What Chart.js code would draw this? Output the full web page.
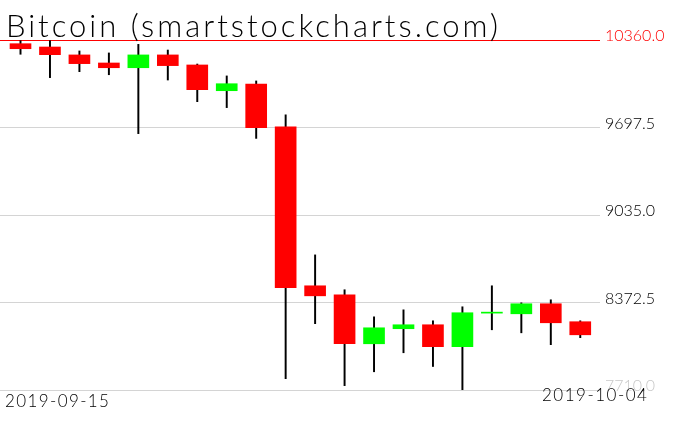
<!DOCTYPE html>
<html>
<head>
<meta charset="utf-8">
<script src="https://cdn.jsdelivr.net/npm/chart.js@4.4.1/dist/chart.umd.min.js"></script>
<style>
  html, body { margin: 0; padding: 0; background: #ffffff; }
  #wrap { width: 676px; height: 431px; position: relative; }
</style>
</head>
<body>
<div id="wrap"><canvas id="c" width="676" height="431"></canvas></div>
<script>
const chartTitle = 'Bitcoin (smartstockcharts.com)';
const dates = ['2019-09-15','2019-09-16','2019-09-17','2019-09-18','2019-09-19','2019-09-20','2019-09-21','2019-09-22','2019-09-23','2019-09-24',
               '2019-09-25','2019-09-26','2019-09-27','2019-09-28','2019-09-29','2019-09-30','2019-10-01','2019-10-02','2019-10-03','2019-10-04'];
const opens  = [10332, 10307, 10247, 10186, 10150, 10247, 10171, 9976, 10027, 9702, 8499, 8431, 8060, 8174, 8204, 8038, 8292, 8287, 8363, 8227];
const highs  = [10355, 10355, 10277, 10262, 10327, 10284, 10178, 10088, 10050, 9793, 8733, 8469, 8264, 8317, 8234, 8340, 8499, 8370, 8393, 8234];
const lows   = [10252, 10075, 10120, 10097, 9651, 10057, 9893, 9848, 9615, 7795, 8212, 7743, 7848, 7992, 7888, 7712, 8166, 8143, 8053, 8106];
const closes = [10294, 10249, 10181, 10150, 10247, 10166, 9984, 10029, 9697, 8484, 8423, 8060, 8181, 8204, 8038, 8295, 8294, 8363, 8219, 8128];
const yTicks = [7710.0, 8372.5, 9035.0, 9697.5, 10360.0];
const xTickLabels = [dates[0], dates[dates.length - 1]];

const idx = dates.map((d, i) => i);
const bodyColors = idx.map(i => closes[i] >= opens[i] ? '#00ff00' : '#ff0000');

function fitText(ctx, text, x, baseline, width) {
  ctx.letterSpacing = '0px';
  const w0 = ctx.measureText(text).width;
  const ls = (width - w0) / Math.max(1, text.length - 1);
  ctx.letterSpacing = ls.toFixed(2) + 'px';
  ctx.textAlign = 'left';
  ctx.textBaseline = 'alphabetic';
  ctx.fillText(text, x, baseline);
  ctx.letterSpacing = '0px';
}

const textPlugin = {
  id: 'texts',
  afterDraw(chart) {
    const ctx = chart.ctx;
    ctx.save();
    ctx.fillStyle = '#000000';
    ctx.font = "300 31px Lato, 'DejaVu Sans'";
    fitText(ctx, chartTitle, 6, 37, 492);
    ctx.font = "300 17px Lato, 'DejaVu Sans'";
    fitText(ctx, xTickLabels[0], 5, 407, 104);
    fitText(ctx, xTickLabels[1], 542, 401, 105);
    ctx.restore();
  }
};

new Chart(document.getElementById('c'), {
  type: 'bar',
  data: {
    datasets: [
      {
        label: 'body',
        data: idx.map(i => ({ x: i, y: [opens[i], closes[i]] })),
        backgroundColor: bodyColors,
        borderWidth: 0,
        barThickness: 21,
        minBarLength: 1,
        grouped: false,
        order: 1
      },
      {
        label: 'wick',
        data: idx.map(i => ({ x: i, y: [lows[i], highs[i]] })),
        backgroundColor: '#000000',
        borderWidth: 0,
        barThickness: 1.3,
        grouped: false,
        order: 2
      }
    ]
  },
  options: {
    responsive: false,
    animation: false,
    devicePixelRatio: 1,
    layout: { padding: { top: 40, bottom: 41, left: 0, right: 0 } },
    plugins: { legend: { display: false }, tooltip: { enabled: false }, title: { display: false } },
    scales: {
      x: {
        type: 'linear',
        display: false,
        offset: false,
        bounds: 'ticks',
        min: -0.696,
        max: 19.67
      },
      y: {
        position: 'right',
        min: 7710,
        max: 10360,
        z: 1,
        afterBuildTicks: s => { s.ticks = yTicks.map(v => ({ value: v })); },
        afterFit: s => { s.width = 76; },
        border: { display: false },
        grid: {
          drawTicks: false,
          lineWidth: 1,
          color: c => (c.tick && c.tick.value === 10360) ? '#ff0000' : '#d4d4d4'
        },
        ticks: {
          padding: 5,
          labelOffset: -4,
          font: { family: 'Lato', size: 16, weight: 300 },
          color: c => c.tick.value === 10360 ? '#ff0000' : (c.tick.value === 7710 ? '#c8c8c8' : '#000000'),
          callback: v => Number(v).toFixed(1)
        }
      }
    }
  },
  plugins: [textPlugin]
});
</script>
</body>
</html>
